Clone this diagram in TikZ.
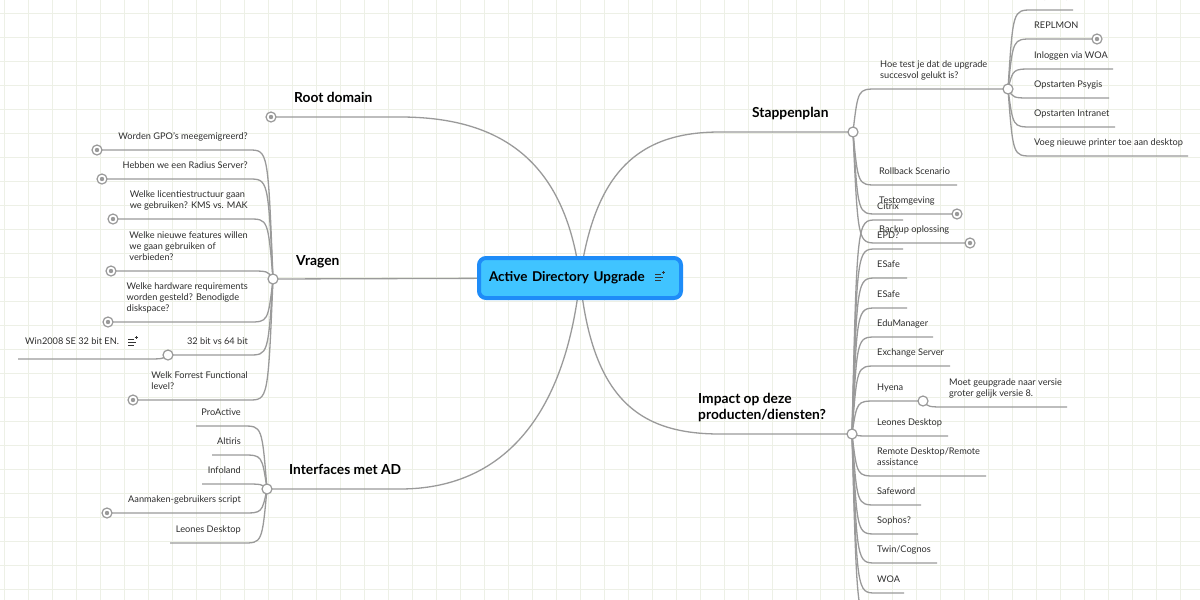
\documentclass[tikz,border=0pt]{standalone}
\usepackage{fontspec}
\setmainfont{Lato}
\usetikzlibrary{calc}
\pgfdeclarelayer{gridl}
\pgfdeclarelayer{links}
\pgfsetlayers{gridl,links,main}
\definecolor{gridc}{HTML}{EDF0E6}
\definecolor{linkc}{HTML}{9A9A9A}
\definecolor{rootfill}{HTML}{40C4FF}
\definecolor{rootdraw}{HTML}{1E8CF8}
\definecolor{leaftext}{HTML}{2E2E2E}
\tikzset{
  conn/.style={draw=linkc, line width=1.3pt},
  leaf/.style={font=\fontsize{9.2}{11}\selectfont, inner sep=0pt, text depth=2pt, align=left, text=leaftext},
  mainlab/.style={font=\fontsize{13.8}{16}\selectfont\bfseries, inner sep=0pt, text depth=3pt, align=left, text=black},
  hub/.style={circle, draw=linkc, line width=1.2pt, fill=white, minimum size=10pt, inner sep=0pt},
  fold/.style={circle, draw=linkc, line width=1.2pt, fill=white, minimum size=10pt, inner sep=0pt,
    path picture={\fill[linkc] (path picture bounding box.center) circle (2.2pt);}},
  rootbox/.style={rectangle, rounded corners=7pt, draw=rootdraw, line width=4pt, fill=rootfill,
    minimum width=202pt, minimum height=40pt, text width=182pt, inner xsep=10pt, align=left,
    font=\fontsize{13.5}{15}\selectfont\bfseries},
  iconline/.style={draw=black!80, line width=0.9pt},
}
\newcommand\leafR[6]{%
  \node[leaf,anchor=south west] (#5) at (#4,#2-8) {#6};
  \begin{pgfonlayer}{links}
  \draw[conn] (#1.center) .. controls ($(#1.center |- 0,#2)+(5,0)$) .. ($(#1.center |- 0,#2)+(24,0)$) -- (#3,#2);
  \end{pgfonlayer}}
\newcommand\leafL[6]{%
  \node[leaf,anchor=south east] (#5) at (#4,#2-8) {#6};
  \begin{pgfonlayer}{links}
  \draw[conn] (#1.center) .. controls ($(#1.center |- 0,#2)+(-5,0)$) .. ($(#1.center |- 0,#2)+(-24,0)$) -- (#3,#2);
  \end{pgfonlayer}}
\newcommand\noteicon[2]{%
  \draw[iconline] (#1-4,#2-3) -- (#1+1.5,#2-3);
  \draw[iconline] (#1-4,#2) -- (#1+4,#2);
  \draw[iconline] (#1-4,#2+3) -- (#1+2,#2+3);
  \draw[draw=black!80, line width=0.7pt] (#1+2.5,#2-4.5) -- (#1+5.5,#2-4.5) (#1+4,#2-6) -- (#1+4,#2-3);}
\begin{document}
\begin{tikzpicture}[x=1pt,y=-1pt]
\useasboundingbox (0,0) rectangle (1200,600);
\clip (0,0) rectangle (1200,600);
\begin{pgfonlayer}{gridl}
  \fill[white] (0,0) rectangle (1200,600);
  \foreach \x in {4,28,...,1196} \draw[gridc, line width=0.8pt] (\x,0) -- (\x,600);
  \foreach \y in {13,37,...,589} \draw[gridc, line width=0.8pt] (0,\y) -- (1200,\y);
\end{pgfonlayer}

% central node
\node[rootbox, anchor=west] (root) at (477,278) {Active Directory Upgrade};
\noteicon{659}{277}

% main hubs
\node[fold] (rd) at (271,117) {};
\node[hub] (vragen) at (273,279) {};
\node[hub] (ifc) at (267,489) {};
\node[hub] (stap) at (853,132) {};
\node[hub] (impact) at (852,434) {};

% main labels
\node[mainlab, anchor=south west] (rdlab) at (294,106) {Root domain};
\node[mainlab, anchor=south west] (vlab) at (296,269) {Vragen};
\node[mainlab, anchor=south west] (ilab) at (289,478) {Interfaces met AD};
\node[mainlab, anchor=south west] (slab) at (752,121) {Stappenplan};
\node[mainlab, anchor=south west] (imlab) at (698,423) {Impact op deze\\producten/diensten?};

\begin{pgfonlayer}{links}
  \draw[conn] (root.center) .. controls (565,160) and (500,117) .. (400,117) -- (rd.center);
  \draw[conn] (root.center) -- (vragen.center);
  \draw[conn] (root.center) .. controls (565,420) and (500,489) .. (400,489) -- (ifc.center);
  \draw[conn] (root.center) .. controls (595,170) and (640,132) .. (720,132) -- (stap.center);
  \draw[conn] (root.center) .. controls (592,400) and (640,434) .. (720,434) -- (impact.center);
\end{pgfonlayer}

% Stappenplan
\node[hub] (hoe) at (1008,89) {};
\leafR{stap}{89}{1008}{880}{hoetxt}{Hoe test je dat de upgrade\\succesvol gelukt is?}
\node[leaf, anchor=south west] (dcdiag) at (1034,3) {DCDIAG};
\coordinate (dcend) at (1073,10);
\begin{pgfonlayer}{links}
  \draw[conn] (hoe.center) .. controls (1013,10) .. (1032,10) -- (dcend);
\end{pgfonlayer}
\node[fold] (replf) at (1097,39) {};
\leafR{hoe}{39}{1097}{1034}{repl}{REPLMON}
\leafR{hoe}{69}{1113}{1034}{inlog}{Inloggen via WOA}
\leafR{hoe}{98}{1109}{1034}{psyg}{Opstarten Psygis}
\leafR{hoe}{127}{1115}{1034}{intra}{Opstarten Intranet}
\leafR{hoe}{156}{1188}{1034}{voeg}{Voeg nieuwe printer toe aan desktop}
\leafR{stap}{185}{957}{879}{rollb}{Rollback Scenario}
\node[fold] (testf) at (957,214) {};
\leafR{stap}{214}{957}{879}{testo}{Testomgeving}
\node[fold] (backf) at (970,243) {};
\leafR{stap}{243}{970}{879}{backup}{Backup oplossing}

% Impact
\leafR{impact}{220}{903}{877}{citrix}{Citrix}
\leafR{impact}{249}{903}{877}{epd}{EPD?}
\leafR{impact}{278}{907}{877}{esafea}{ESafe}
\leafR{impact}{308}{907}{877}{esafeb}{ESafe}
\leafR{impact}{337}{933}{877}{edu}{EduManager}
\leafR{impact}{366}{950}{877}{exch}{Exchange Server}
\node[hub] (hyena) at (923,401) {};
\leafR{impact}{401}{923}{877}{hyetxt}{Hyena}
\leafR{hyena}{407}{1067}{949}{moet}{Moet geupgrade naar versie\\groter gelijk versie 8.}
\leafR{impact}{436}{948}{877}{leonesr}{Leones Desktop}
\leafR{impact}{476}{986}{877}{remote}{Remote Desktop/Remote\\assistance}
\leafR{impact}{505}{921}{877}{safew}{Safeword}
\leafR{impact}{534}{918}{877}{sophos}{Sophos?}
\leafR{impact}{563}{937}{877}{twin}{Twin/Cognos}
\leafR{impact}{593}{904}{877}{woa}{WOA}
\coordinate (nextc) at (940,622);
\begin{pgfonlayer}{links}
  \draw[conn] (impact.center) .. controls (857,622) .. (876,622) -- (nextc);
\end{pgfonlayer}

% Vragen
\node[fold] (f1) at (97,150) {};
\leafL{vragen}{150}{97}{248}{gpo}{Worden GPO's meegemigreerd?}
\node[fold] (f2) at (102,179) {};
\leafL{vragen}{179}{102}{248}{radius}{Hebben we een Radius Server?}
\node[fold] (f3) at (113,219) {};
\leafL{vragen}{219}{113}{248}{licent}{Welke licentiestructuur gaan\\we gebruiken? KMS vs. MAK}
\node[fold] (f4) at (111,271) {};
\leafL{vragen}{271}{111}{248}{feat}{Welke nieuwe features willen\\we gaan gebruiken of\\verbieden?}
\node[fold] (f5) at (108,322) {};
\leafL{vragen}{322}{108}{248}{hardw}{Welke hardware requirements\\worden gesteld? Benodigde\\diskspace?}
\node[hub] (b32) at (168,355) {};
\leafL{vragen}{355}{168}{248}{bit}{32 bit vs 64 bit}
\node[fold] (f6) at (133,400) {};
\leafL{vragen}{400}{133}{248}{forrest}{Welk Forrest Functional\\level?}
\node[leaf, anchor=south west] (win) at (25,347) {Win2008 SE 32 bit EN.};
\noteicon{132}{342}
\coordinate (winend) at (18,359);
\begin{pgfonlayer}{links}
  \draw[conn] (b32.center) .. controls (163,359) .. (144,359) -- (winend);
\end{pgfonlayer}

% Interfaces
\leafL{ifc}{426}{196}{241}{proact}{ProActive}
\leafL{ifc}{455}{212}{241}{altiris}{Altiris}
\leafL{ifc}{484}{202}{241}{infol}{Infoland}
\node[fold] (f7) at (107,513) {};
\leafL{ifc}{513}{107}{241}{aanm}{Aanmaken-gebruikers script}
\leafL{ifc}{543}{170}{241}{leonesl}{Leones Desktop}
\end{tikzpicture}
\end{document}
